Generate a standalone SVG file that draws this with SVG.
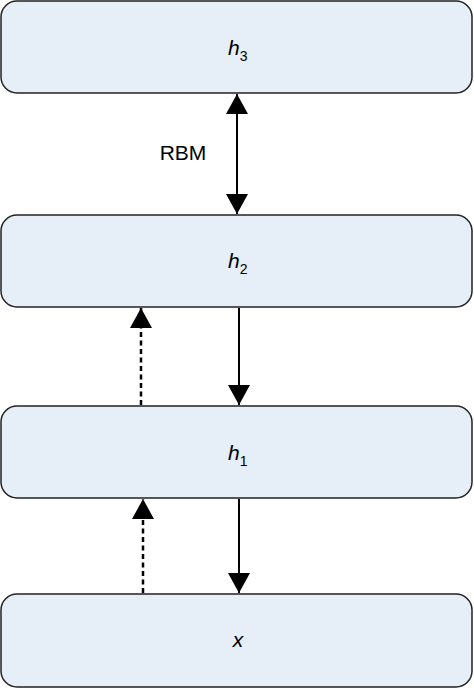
<svg xmlns="http://www.w3.org/2000/svg" width="474" height="688" viewBox="0 0 474 688">
<style>
.box{fill:#E6EEF8;stroke:#222;stroke-width:1.5}
.lbl{font-family:"Liberation Sans",Arial,sans-serif;font-size:21px;fill:#000}
.it{font-style:italic}
.sub{font-size:14px}
.c{stroke:#000;stroke-width:2;fill:none}
.d{stroke-width:2.5;stroke-dasharray:5,3.5}
</style>
<defs>
<marker id="ah2" markerWidth="20" markerHeight="22" refX="20" refY="11" orient="auto-start-reverse" markerUnits="userSpaceOnUse" viewBox="0 0 20 22">
<path d="M0,0 L20,11 L0,22 Z" fill="#000"/>
</marker>
</defs>
<g id="h3"><rect class="box" x="1" y="1" width="471" height="92" rx="16"/>
<text class="lbl" x="228" y="55"><tspan class="it">h</tspan><tspan class="sub" dy="6">3</tspan></text></g>
<g id="h2"><rect class="box" x="1" y="215" width="471" height="92" rx="16"/>
<text class="lbl" x="228" y="268"><tspan class="it">h</tspan><tspan class="sub" dy="6">2</tspan></text></g>
<g id="h1"><rect class="box" x="1" y="406" width="471" height="92" rx="16"/>
<text class="lbl" x="228" y="460"><tspan class="it">h</tspan><tspan class="sub" dy="6">1</tspan></text></g>
<g id="x"><rect class="box" x="1" y="594" width="471" height="93" rx="16"/>
<text class="lbl it" x="238" y="647" text-anchor="middle">x</text></g>
<g id="connectors">
<line class="c" x1="237" y1="94" x2="237" y2="214" marker-start="url(#ah2)" marker-end="url(#ah2)"/>
<text class="lbl" x="183" y="160" text-anchor="middle">RBM</text>
<line class="c" x1="239" y1="308" x2="239" y2="405" marker-end="url(#ah2)"/>
<line class="c d" x1="141" y1="405" x2="141" y2="308" marker-end="url(#ah2)"/>
<line class="c" x1="239" y1="499" x2="239" y2="593" marker-end="url(#ah2)"/>
<line class="c d" x1="143" y1="593" x2="143" y2="499" marker-end="url(#ah2)"/>
</g>
</svg>
